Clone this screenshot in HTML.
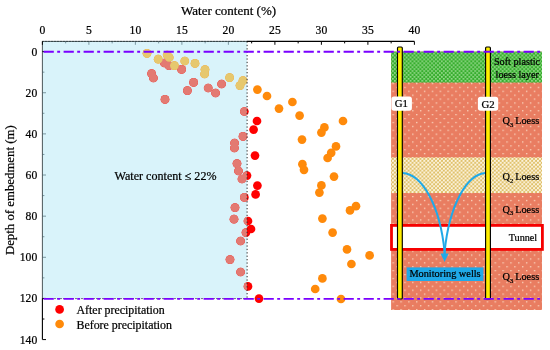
<!DOCTYPE html>
<html><head><meta charset="utf-8"><title>Water content vs depth</title>
<style>
html,body{margin:0;padding:0;background:#fff;}
svg{display:block;font-family:"Liberation Serif","Times New Roman",serif;}
text{stroke:#000;stroke-width:0.22px;}
</style></head><body>
<svg width="550" height="350" viewBox="0 0 550 350">
<defs>
<pattern id="pg" width="3.92" height="3.9" patternUnits="userSpaceOnUse">
<rect width="3.92" height="3.9" fill="#37ae2e"/><circle cx="0.9" cy="0.9" r="0.78" fill="#c6f0bc"/><circle cx="2.86" cy="2.85" r="0.78" fill="#c6f0bc"/></pattern>
<pattern id="pq2" width="3.92" height="3.9" patternUnits="userSpaceOnUse">
<rect width="3.92" height="3.9" fill="#dfc068"/><ellipse cx="0.9" cy="0.9" rx="1.2" ry="0.95" fill="#fff8e8"/><ellipse cx="2.86" cy="2.85" rx="1.2" ry="0.95" fill="#fff8e8"/></pattern>
<pattern id="pl" width="7.85" height="7.8" patternUnits="userSpaceOnUse">
<rect width="7.85" height="7.8" fill="#e97d61"/><circle cx="0.75" cy="5.5" r="0.7" fill="#ffeeda"/><circle cx="4.675" cy="1.6" r="0.7" fill="#ffeeda"/></pattern>
<clipPath id="cb"><rect x="42.4" y="41.4" width="204.6" height="257.2"/></clipPath>
</defs>
<rect width="550" height="350" fill="#fff"/>

<rect x="42.4" y="41.4" width="204.6" height="257.2" fill="#d9f3fa"/>
<rect x="391.1" y="51.6" width="150.89999999999998" height="258.4" fill="url(#pl)"/>
<rect x="391.1" y="51.6" width="150.89999999999998" height="30.999999999999993" fill="url(#pg)"/>
<rect x="391.1" y="157.4" width="150.89999999999998" height="35.599999999999994" fill="url(#pq2)"/>
<rect x="391.5" y="225.4" width="150.9" height="24" fill="#fff" stroke="#f60000" stroke-width="2.8"/>
<path d="M402.5 173 C 422 174, 440 205, 444.6 252 V256" fill="none" stroke="#1fa9e8" stroke-width="2"/>
<path d="M485.6 173 C 467 174, 449.2 205, 444.6 252 V256" fill="none" stroke="#1fa9e8" stroke-width="2"/>
<path d="M440.6 253.6 L448.6 253.6 L444.6 262 Z" fill="#1fa9e8"/>
<rect x="397.5" y="47" width="4.8" height="252" rx="1" fill="#ffee00" stroke="#000" stroke-width="1.15"/>
<rect x="485.6" y="47" width="4.8" height="252" rx="1" fill="#ffee00" stroke="#000" stroke-width="1.15"/>
<rect x="391.4" y="96.5" width="20.5" height="14.2" rx="2.6" fill="#fff"/>
<rect x="477.9" y="96.7" width="20.3" height="14" rx="2.6" fill="#fff"/>
<text x="401.3" y="107.2" font-size="10.8" text-anchor="middle">G1</text>
<text x="488" y="107.6" font-size="10.8" text-anchor="middle">G2</text>
<rect x="406.6" y="267.4" width="76.8" height="13.6" fill="#1fa9e8"/>
<text x="445" y="277.2" font-size="10.3" text-anchor="middle">Monitoring wells</text>
<text x="517" y="65.3" font-size="10.2" text-anchor="middle">Soft plastic</text>
<text x="517.2" y="77.8" font-size="10.2" text-anchor="middle">loess layer</text>
<text x="539.2" y="124.3" font-size="10.3" text-anchor="end">Q<tspan font-size="6.6" dy="2.2">3</tspan><tspan dy="-2.2" dx="-0.6"> Loess</tspan></text>
<text x="539.2" y="180.3" font-size="10.3" text-anchor="end">Q<tspan font-size="6.6" dy="2.2">2</tspan><tspan dy="-2.2" dx="-0.6"> Loess</tspan></text>
<text x="539.2" y="212.70000000000002" font-size="10.3" text-anchor="end">Q<tspan font-size="6.6" dy="2.2">3</tspan><tspan dy="-2.2" dx="-0.6"> Loess</tspan></text>
<text x="539.2" y="280.3" font-size="10.3" text-anchor="end">Q<tspan font-size="6.6" dy="2.2">3</tspan><tspan dy="-2.2" dx="-0.6"> Loess</tspan></text>
<text x="537.2" y="241.2" font-size="10.2" text-anchor="end">Tunnel</text>
<circle cx="164.4" cy="63" r="4.35" fill="#ff0000"/>
<circle cx="169" cy="65.6" r="4.35" fill="#ff0000"/>
<circle cx="181.6" cy="69.4" r="4.35" fill="#ff0000"/>
<circle cx="151.6" cy="73.6" r="4.35" fill="#ff0000"/>
<circle cx="153.4" cy="78" r="4.35" fill="#ff0000"/>
<circle cx="193.6" cy="82.4" r="4.35" fill="#ff0000"/>
<circle cx="187.4" cy="90.6" r="4.35" fill="#ff0000"/>
<circle cx="208.2" cy="88" r="4.35" fill="#ff0000"/>
<circle cx="215.6" cy="93" r="4.35" fill="#ff0000"/>
<circle cx="221.6" cy="84" r="4.35" fill="#ff0000"/>
<circle cx="165" cy="99.4" r="4.35" fill="#ff0000"/>
<circle cx="244.4" cy="111.5" r="4.35" fill="#ff0000"/>
<circle cx="257" cy="121" r="4.35" fill="#ff0000"/>
<circle cx="253.6" cy="129.6" r="4.35" fill="#ff0000"/>
<circle cx="243" cy="136.4" r="4.35" fill="#ff0000"/>
<circle cx="234.6" cy="143" r="4.35" fill="#ff0000"/>
<circle cx="234.4" cy="148" r="4.35" fill="#ff0000"/>
<circle cx="255" cy="155.6" r="4.35" fill="#ff0000"/>
<circle cx="237" cy="163.6" r="4.35" fill="#ff0000"/>
<circle cx="238.5" cy="171" r="4.35" fill="#ff0000"/>
<circle cx="247" cy="175.6" r="4.35" fill="#ff0000"/>
<circle cx="242" cy="179" r="4.35" fill="#ff0000"/>
<circle cx="257.4" cy="185.6" r="4.35" fill="#ff0000"/>
<circle cx="255.6" cy="194.4" r="4.35" fill="#ff0000"/>
<circle cx="244.4" cy="197.4" r="4.35" fill="#ff0000"/>
<circle cx="235" cy="207.6" r="4.35" fill="#ff0000"/>
<circle cx="234" cy="219.2" r="4.35" fill="#ff0000"/>
<circle cx="248" cy="221" r="4.35" fill="#ff0000"/>
<circle cx="251" cy="229" r="4.35" fill="#ff0000"/>
<circle cx="246" cy="232.6" r="4.35" fill="#ff0000"/>
<circle cx="240.6" cy="241" r="4.35" fill="#ff0000"/>
<circle cx="230" cy="259.6" r="4.35" fill="#ff0000"/>
<circle cx="240.6" cy="272" r="4.35" fill="#ff0000"/>
<circle cx="248" cy="286.4" r="4.35" fill="#ff0000"/>
<circle cx="259" cy="298.6" r="4.35" fill="#ff0000"/>
<circle cx="147" cy="53.3" r="4.35" fill="#ff8a0a"/>
<circle cx="158.2" cy="59.2" r="4.35" fill="#ff8a0a"/>
<circle cx="167.2" cy="55" r="4.35" fill="#ff8a0a"/>
<circle cx="169.2" cy="57.5" r="4.35" fill="#ff8a0a"/>
<circle cx="174.4" cy="65.6" r="4.35" fill="#ff8a0a"/>
<circle cx="184.8" cy="61" r="4.35" fill="#ff8a0a"/>
<circle cx="195" cy="63.4" r="4.35" fill="#ff8a0a"/>
<circle cx="205" cy="69.6" r="4.35" fill="#ff8a0a"/>
<circle cx="204.6" cy="74" r="4.35" fill="#ff8a0a"/>
<circle cx="229.6" cy="77.6" r="4.35" fill="#ff8a0a"/>
<circle cx="243" cy="80.6" r="4.35" fill="#ff8a0a"/>
<circle cx="240" cy="85.6" r="4.35" fill="#ff8a0a"/>
<circle cx="257.4" cy="89.6" r="4.35" fill="#ff8a0a"/>
<circle cx="267" cy="96" r="4.35" fill="#ff8a0a"/>
<circle cx="279" cy="108.6" r="4.35" fill="#ff8a0a"/>
<circle cx="292.4" cy="102" r="4.35" fill="#ff8a0a"/>
<circle cx="299.6" cy="115.6" r="4.35" fill="#ff8a0a"/>
<circle cx="302" cy="139.6" r="4.35" fill="#ff8a0a"/>
<circle cx="302.4" cy="164.2" r="4.35" fill="#ff8a0a"/>
<circle cx="304" cy="169.8" r="4.35" fill="#ff8a0a"/>
<circle cx="343" cy="121" r="4.35" fill="#ff8a0a"/>
<circle cx="324.4" cy="127.4" r="4.35" fill="#ff8a0a"/>
<circle cx="321.4" cy="132.6" r="4.35" fill="#ff8a0a"/>
<circle cx="336" cy="146.4" r="4.35" fill="#ff8a0a"/>
<circle cx="331.2" cy="152.8" r="4.35" fill="#ff8a0a"/>
<circle cx="327.6" cy="158" r="4.35" fill="#ff8a0a"/>
<circle cx="334" cy="176.6" r="4.35" fill="#ff8a0a"/>
<circle cx="321.4" cy="185.4" r="4.35" fill="#ff8a0a"/>
<circle cx="319.4" cy="192.6" r="4.35" fill="#ff8a0a"/>
<circle cx="356" cy="206.2" r="4.35" fill="#ff8a0a"/>
<circle cx="350" cy="210.4" r="4.35" fill="#ff8a0a"/>
<circle cx="322.4" cy="218.6" r="4.35" fill="#ff8a0a"/>
<circle cx="332.6" cy="232.6" r="4.35" fill="#ff8a0a"/>
<circle cx="347" cy="249.4" r="4.35" fill="#ff8a0a"/>
<circle cx="369.6" cy="255.4" r="4.35" fill="#ff8a0a"/>
<circle cx="351.4" cy="264" r="4.35" fill="#ff8a0a"/>
<circle cx="322.4" cy="278.4" r="4.35" fill="#ff8a0a"/>
<circle cx="315.2" cy="289" r="4.35" fill="#ff8a0a"/>
<circle cx="341" cy="299" r="4.35" fill="#ff8a0a"/>
<g clip-path="url(#cb)">
<circle cx="164.4" cy="63" r="4.35" fill="#e37a72"/>
<circle cx="169" cy="65.6" r="4.35" fill="#e37a72"/>
<circle cx="181.6" cy="69.4" r="4.35" fill="#e37a72"/>
<circle cx="151.6" cy="73.6" r="4.35" fill="#e37a72"/>
<circle cx="153.4" cy="78" r="4.35" fill="#e37a72"/>
<circle cx="193.6" cy="82.4" r="4.35" fill="#e37a72"/>
<circle cx="187.4" cy="90.6" r="4.35" fill="#e37a72"/>
<circle cx="208.2" cy="88" r="4.35" fill="#e37a72"/>
<circle cx="215.6" cy="93" r="4.35" fill="#e37a72"/>
<circle cx="221.6" cy="84" r="4.35" fill="#e37a72"/>
<circle cx="165" cy="99.4" r="4.35" fill="#e37a72"/>
<circle cx="244.4" cy="111.5" r="4.35" fill="#e37a72"/>
<circle cx="257" cy="121" r="4.35" fill="#e37a72"/>
<circle cx="253.6" cy="129.6" r="4.35" fill="#e37a72"/>
<circle cx="243" cy="136.4" r="4.35" fill="#e37a72"/>
<circle cx="234.6" cy="143" r="4.35" fill="#e37a72"/>
<circle cx="234.4" cy="148" r="4.35" fill="#e37a72"/>
<circle cx="255" cy="155.6" r="4.35" fill="#e37a72"/>
<circle cx="237" cy="163.6" r="4.35" fill="#e37a72"/>
<circle cx="238.5" cy="171" r="4.35" fill="#e37a72"/>
<circle cx="247" cy="175.6" r="4.35" fill="#e37a72"/>
<circle cx="242" cy="179" r="4.35" fill="#e37a72"/>
<circle cx="257.4" cy="185.6" r="4.35" fill="#e37a72"/>
<circle cx="255.6" cy="194.4" r="4.35" fill="#e37a72"/>
<circle cx="244.4" cy="197.4" r="4.35" fill="#e37a72"/>
<circle cx="235" cy="207.6" r="4.35" fill="#e37a72"/>
<circle cx="234" cy="219.2" r="4.35" fill="#e37a72"/>
<circle cx="248" cy="221" r="4.35" fill="#e37a72"/>
<circle cx="251" cy="229" r="4.35" fill="#e37a72"/>
<circle cx="246" cy="232.6" r="4.35" fill="#e37a72"/>
<circle cx="240.6" cy="241" r="4.35" fill="#e37a72"/>
<circle cx="230" cy="259.6" r="4.35" fill="#e37a72"/>
<circle cx="240.6" cy="272" r="4.35" fill="#e37a72"/>
<circle cx="248" cy="286.4" r="4.35" fill="#e37a72"/>
<circle cx="259" cy="298.6" r="4.35" fill="#e37a72"/>
<circle cx="147" cy="53.3" r="4.35" fill="#e6c86e"/>
<circle cx="158.2" cy="59.2" r="4.35" fill="#e6c86e"/>
<circle cx="167.2" cy="55" r="4.35" fill="#e6c86e"/>
<circle cx="169.2" cy="57.5" r="4.35" fill="#e6c86e"/>
<circle cx="174.4" cy="65.6" r="4.35" fill="#e6c86e"/>
<circle cx="184.8" cy="61" r="4.35" fill="#e6c86e"/>
<circle cx="195" cy="63.4" r="4.35" fill="#e6c86e"/>
<circle cx="205" cy="69.6" r="4.35" fill="#e6c86e"/>
<circle cx="204.6" cy="74" r="4.35" fill="#e6c86e"/>
<circle cx="229.6" cy="77.6" r="4.35" fill="#e6c86e"/>
<circle cx="243" cy="80.6" r="4.35" fill="#e6c86e"/>
<circle cx="240" cy="85.6" r="4.35" fill="#e6c86e"/>
<circle cx="257.4" cy="89.6" r="4.35" fill="#e6c86e"/>
<circle cx="267" cy="96" r="4.35" fill="#e6c86e"/>
<circle cx="279" cy="108.6" r="4.35" fill="#e6c86e"/>
<circle cx="292.4" cy="102" r="4.35" fill="#e6c86e"/>
<circle cx="299.6" cy="115.6" r="4.35" fill="#e6c86e"/>
<circle cx="302" cy="139.6" r="4.35" fill="#e6c86e"/>
<circle cx="302.4" cy="164.2" r="4.35" fill="#e6c86e"/>
<circle cx="304" cy="169.8" r="4.35" fill="#e6c86e"/>
<circle cx="343" cy="121" r="4.35" fill="#e6c86e"/>
<circle cx="324.4" cy="127.4" r="4.35" fill="#e6c86e"/>
<circle cx="321.4" cy="132.6" r="4.35" fill="#e6c86e"/>
<circle cx="336" cy="146.4" r="4.35" fill="#e6c86e"/>
<circle cx="331.2" cy="152.8" r="4.35" fill="#e6c86e"/>
<circle cx="327.6" cy="158" r="4.35" fill="#e6c86e"/>
<circle cx="334" cy="176.6" r="4.35" fill="#e6c86e"/>
<circle cx="321.4" cy="185.4" r="4.35" fill="#e6c86e"/>
<circle cx="319.4" cy="192.6" r="4.35" fill="#e6c86e"/>
<circle cx="356" cy="206.2" r="4.35" fill="#e6c86e"/>
<circle cx="350" cy="210.4" r="4.35" fill="#e6c86e"/>
<circle cx="322.4" cy="218.6" r="4.35" fill="#e6c86e"/>
<circle cx="332.6" cy="232.6" r="4.35" fill="#e6c86e"/>
<circle cx="347" cy="249.4" r="4.35" fill="#e6c86e"/>
<circle cx="369.6" cy="255.4" r="4.35" fill="#e6c86e"/>
<circle cx="351.4" cy="264" r="4.35" fill="#e6c86e"/>
<circle cx="322.4" cy="278.4" r="4.35" fill="#e6c86e"/>
<circle cx="315.2" cy="289" r="4.35" fill="#e6c86e"/>
<circle cx="341" cy="299" r="4.35" fill="#e6c86e"/>
</g>
<path d="M247.1 41.4 V298.6" stroke="#2a2a2a" stroke-width="1" stroke-dasharray="1.3 2.1" fill="none"/>
<path d="M42.4 41.4 H247" stroke="#2a4a4a" stroke-width="1" stroke-dasharray="1.2 1.8" fill="none"/>
<path d="M42.4 298.6 H247" stroke="#222" stroke-width="1" stroke-dasharray="1.2 1.8" fill="none"/>
<path d="M42.4 339.6 V298.6 M247 41.4 H414.4" stroke="#000" stroke-width="1.1" fill="none"/>
<path d="M42.4 298.6 V41.4 H247" stroke="#10181c" stroke-opacity="0.8" stroke-width="0.9" fill="none"/>
<path d="M42.40 41.4 v3.4 M274.90 41.4 v3.4 M321.40 41.4 v3.4 M367.90 41.4 v3.4 M414.40 41.4 v3.4 M251.65 41.4 v2 M298.15 41.4 v2 M344.65 41.4 v2 M391.15 41.4 v2 M42.4 51.60 h3.6 M42.4 298.44 h3.6 M42.4 319.01 h2 M42.4 339.58 h3.6" stroke="#000" stroke-width="1" fill="none"/>
<path d="M88.90 41.4 v3.4 M135.40 41.4 v3.4 M181.90 41.4 v3.4 M228.40 41.4 v3.4 M65.65 41.4 v2 M112.15 41.4 v2 M158.65 41.4 v2 M205.15 41.4 v2 M42.4 72.17 h2 M42.4 92.74 h3.6 M42.4 113.31 h2 M42.4 133.88 h3.6 M42.4 154.45 h2 M42.4 175.02 h3.6 M42.4 195.59 h2 M42.4 216.16 h3.6 M42.4 236.73 h2 M42.4 257.30 h3.6 M42.4 277.87 h2" stroke="#3c5a64" stroke-opacity="0.6" stroke-width="1" fill="none"/>
<text x="42.4" y="34" font-size="11.6" text-anchor="middle">0</text>
<text x="88.9" y="34" font-size="11.6" text-anchor="middle">5</text>
<text x="135.4" y="34" font-size="11.6" text-anchor="middle">10</text>
<text x="181.9" y="34" font-size="11.6" text-anchor="middle">15</text>
<text x="228.4" y="34" font-size="11.6" text-anchor="middle">20</text>
<text x="274.9" y="34" font-size="11.6" text-anchor="middle">25</text>
<text x="321.4" y="34" font-size="11.6" text-anchor="middle">30</text>
<text x="367.9" y="34" font-size="11.6" text-anchor="middle">35</text>
<text x="414.4" y="34" font-size="11.6" text-anchor="middle">40</text>
<text x="37.2" y="55.5" font-size="11.6" text-anchor="end">0</text>
<text x="37.2" y="96.6" font-size="11.6" text-anchor="end">20</text>
<text x="37.2" y="137.8" font-size="11.6" text-anchor="end">40</text>
<text x="37.2" y="178.9" font-size="11.6" text-anchor="end">60</text>
<text x="37.2" y="220.1" font-size="11.6" text-anchor="end">80</text>
<text x="37.2" y="261.2" font-size="11.6" text-anchor="end">100</text>
<text x="37.2" y="302.3" font-size="11.6" text-anchor="end">120</text>
<text x="37.2" y="343.5" font-size="11.6" text-anchor="end">140</text>
<text x="228.6" y="15.3" font-size="13" text-anchor="middle">Water content (%)</text>
<text transform="translate(14.2 190.2) rotate(-90)" font-size="12.8" text-anchor="middle">Depth of embedment (m)</text>
<text x="165.5" y="180" font-size="12.1" text-anchor="middle">Water content ≤ 22%</text>
<path d="M43.6 51.7 H542" stroke="#7a00ff" stroke-width="1.9" stroke-dasharray="10.2 3.4 2.9 3.5" fill="none"/>
<path d="M43.6 298.9 H542" stroke="#7a00ff" stroke-width="1.8" stroke-dasharray="10.2 3.4 2.9 3.5" fill="none"/>
<circle cx="59.6" cy="309.4" r="4.35" fill="#ff0000"/>
<circle cx="59.6" cy="324" r="4.35" fill="#ff8a0a"/>
<text x="76.5" y="313.6" font-size="11.9">After precipitation</text>
<text x="76.5" y="328.8" font-size="11.9">Before precipitation</text>
</svg></body></html>
